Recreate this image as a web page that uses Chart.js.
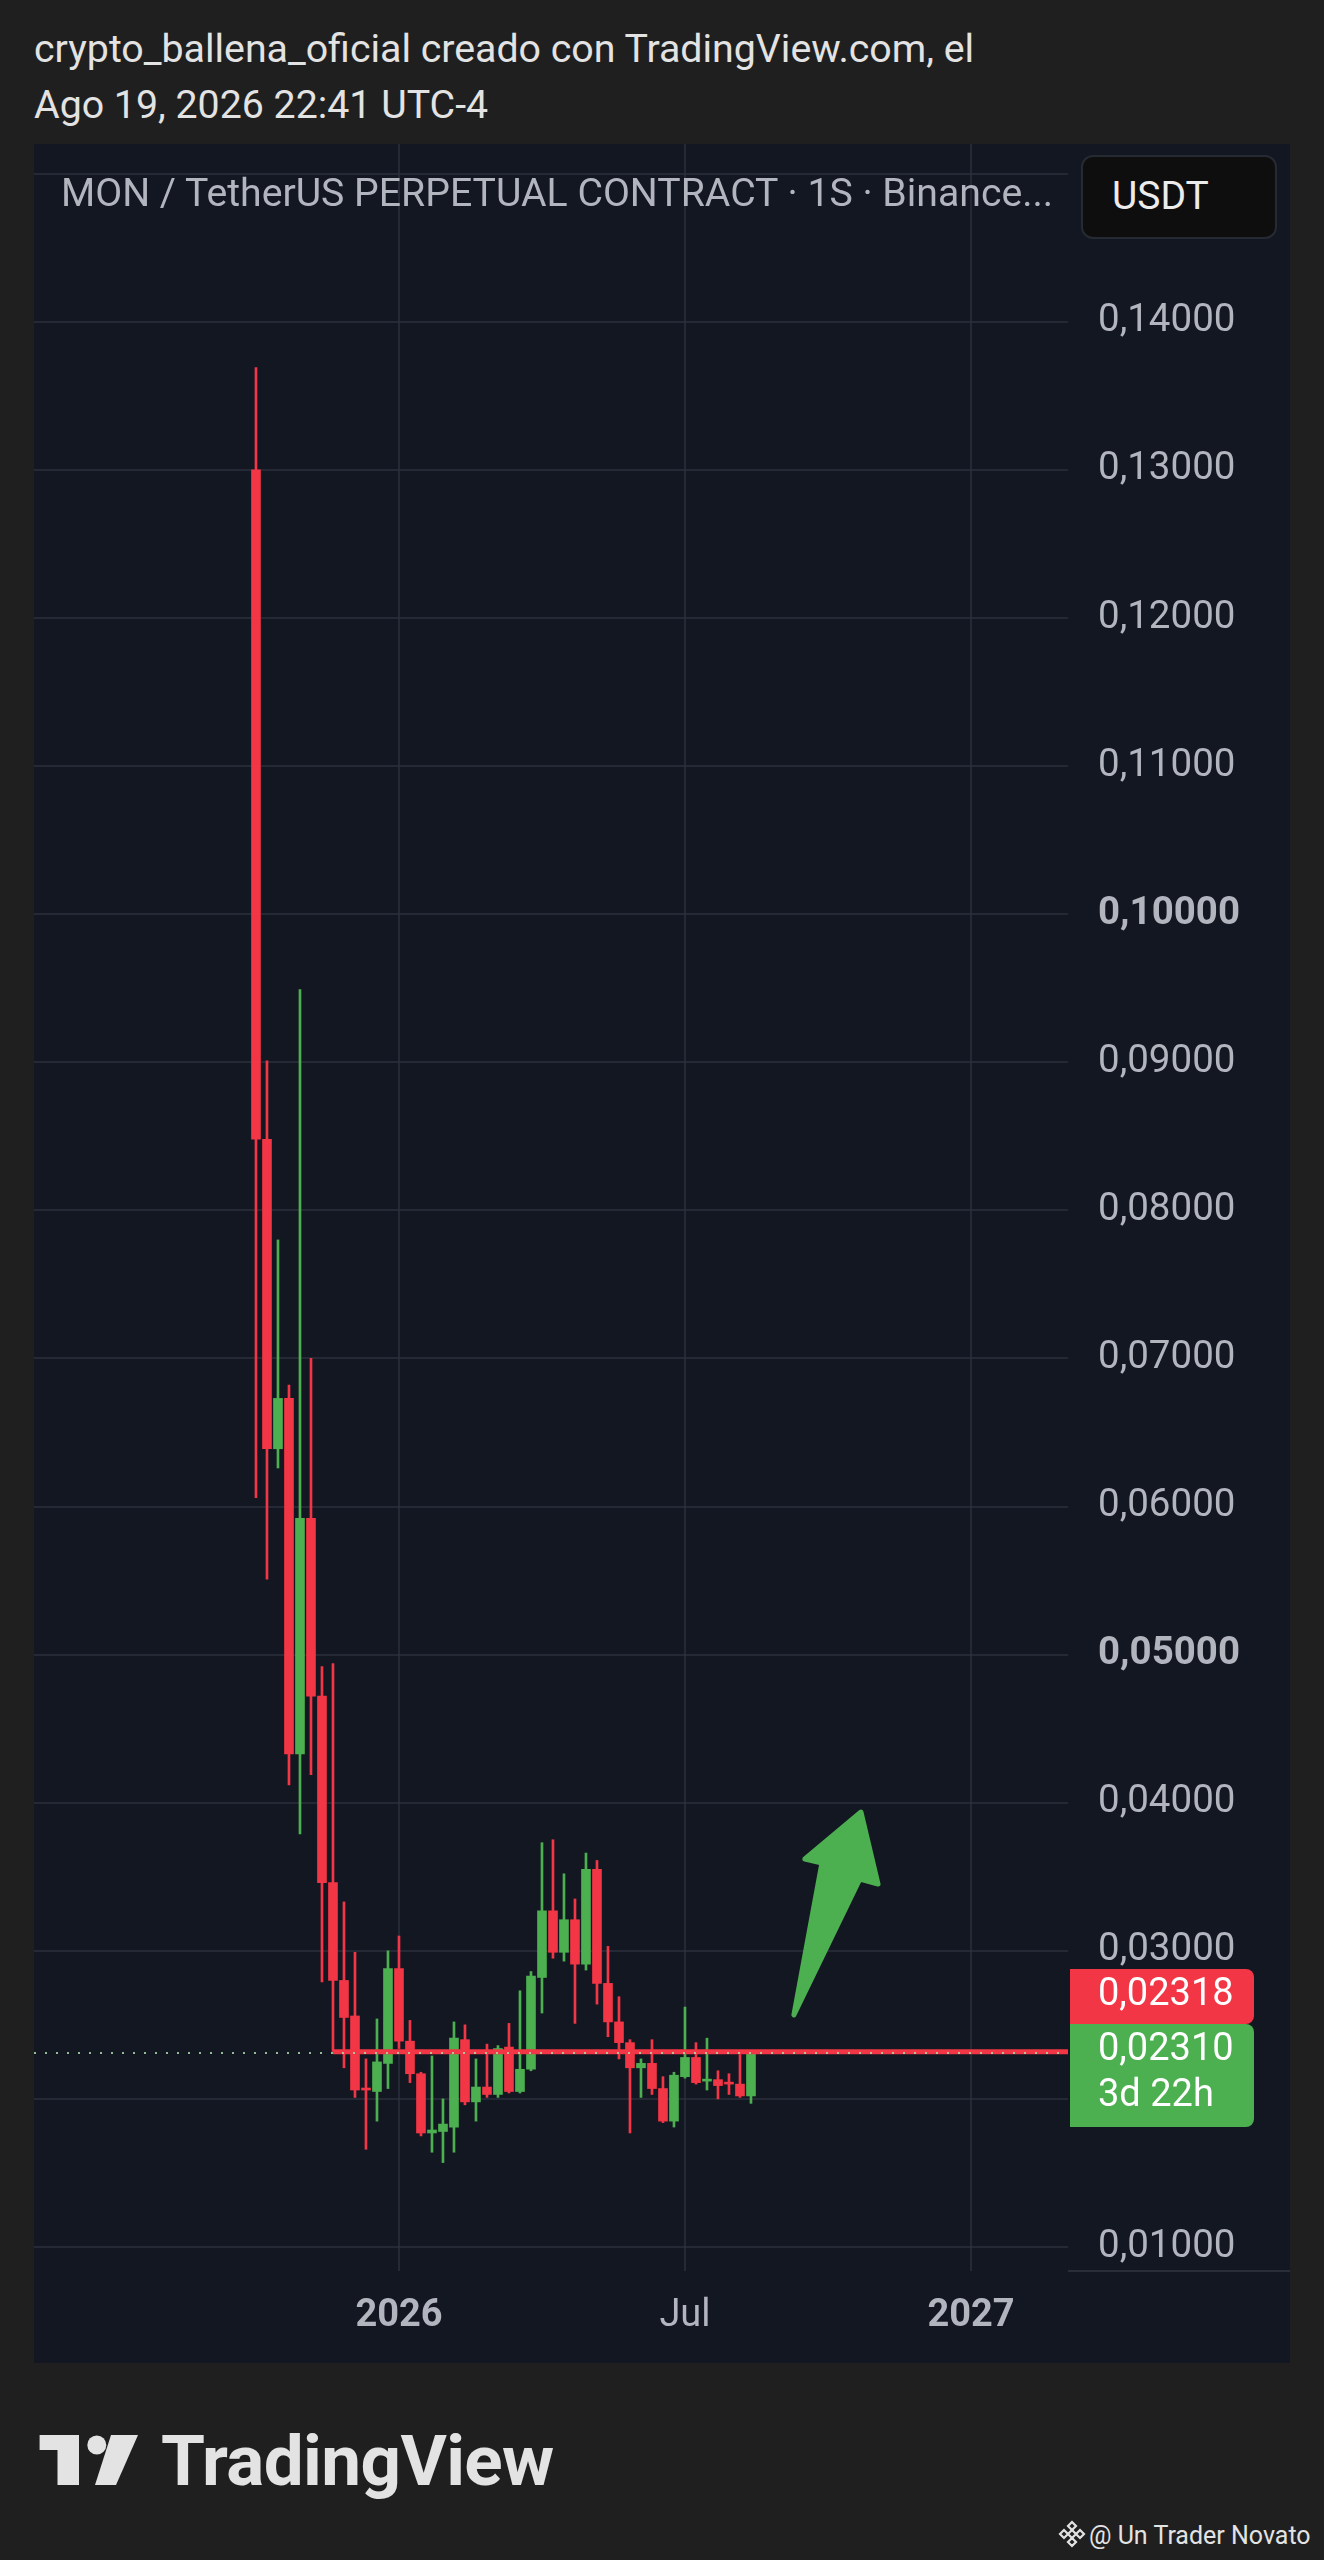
<!DOCTYPE html>
<html lang="es">
<head>
<meta charset="utf-8">
<title>MON / TetherUS PERPETUAL CONTRACT</title>
<script src="https://cdn.jsdelivr.net/npm/chart.js@4.4.1/dist/chart.umd.min.js"></script>
<style>
  html, body { margin: 0; padding: 0; }
  body {
    width: 1324px; height: 2560px; position: relative; overflow: hidden;
    background: #1f1f1f; font-family: Roboto, "Noto Sans", sans-serif;
  }
  .hdr { position: absolute; left: 34px; color: #e3e3e3; font-size: 39.3px; line-height: 39px; white-space: nowrap; }
  #pane { position: absolute; left: 34px; top: 144px; width: 1256px; height: 2219px; background: #131722; }
  #myChart { position: absolute; left: 0; top: 0; }
  .title { position: absolute; left: 27px; top: 30px; color: #b2b5be; font-size: 39.2px; line-height: 39px; white-space: nowrap; }
  .usdt-box { position: absolute; left: 1047px; top: 11px; width: 196px; height: 84px; box-sizing: border-box;
    background: #0e0e0e; border: 2px solid #262a33; border-radius: 12px; }
  .usdt { position: absolute; left: 1078px; top: 33px; color: #ececec; font-size: 39px; line-height: 39px; }
  .brand { position: absolute; left: 161px; top: 2425px; color: #e3e3e3; font-size: 71px; line-height: 71px; font-weight: 700; letter-spacing: -0.6px; }
  .credit { position: absolute; left: 1089px; top: 2523px; color: #e3e3e3; font-size: 25px; line-height: 25px; white-space: nowrap; }
</style>
</head>
<body>
<div class="hdr" style="top:30px">crypto_ballena_oficial creado con TradingView.com, el</div>
<div class="hdr" style="top:86px">Ago 19, 2026 22:41 UTC-4</div>

<div id="pane">
  <canvas id="myChart" width="1256" height="2219"></canvas>
  <div class="title">MON / TetherUS PERPETUAL CONTRACT · 1S · Binance...</div>
  <div class="usdt-box"></div>
  <div class="usdt">USDT</div>
</div>

<svg style="position:absolute;left:39px;top:2435px" width="100" height="50" viewBox="0 0 100 50">
  <polygon points="0.6,0 40,0 40,50 18.5,50 18.5,15 0.6,15" fill="#e3e3e3"/>
  <circle cx="57.8" cy="10" r="9.5" fill="#e3e3e3"/>
  <polygon points="72,0 99,0 77,50 56,50" fill="#e3e3e3"/>
</svg>
<div class="brand">TradingView</div>

<svg style="position:absolute;left:1058px;top:2520px" width="28" height="28" viewBox="0 0 28 28">
  <g fill="none" stroke="#e3e3e3" stroke-width="2.2">
    <polygon points="14,2 18,6 14,10 10,6"/>
    <polygon points="14,18 18,22 14,26 10,22"/>
    <polygon points="6,10 10,14 6,18 2,14"/>
    <polygon points="22,10 26,14 22,18 18,14"/>
    <polygon points="14,10 18,14 14,18 10,14"/>
  </g>
</svg>
<div class="credit">@ Un Trader Novato</div>

<script>
document.addEventListener("DOMContentLoaded", function () {

  // weekly candles (Monday of each week)
  const weeks = [
    "2025-10-06", "2025-10-13", "2025-10-20", "2025-10-27", "2025-11-03", "2025-11-10",
    "2025-11-17", "2025-11-24", "2025-12-01", "2025-12-08", "2025-12-15", "2025-12-22",
    "2025-12-29", "2026-01-05", "2026-01-12", "2026-01-19", "2026-01-26", "2026-02-02",
    "2026-02-09", "2026-02-16", "2026-02-23", "2026-03-02", "2026-03-09", "2026-03-16",
    "2026-03-23", "2026-03-30", "2026-04-06", "2026-04-13", "2026-04-20", "2026-04-27",
    "2026-05-04", "2026-05-11", "2026-05-18", "2026-05-25", "2026-06-01", "2026-06-08",
    "2026-06-15", "2026-06-22", "2026-06-29", "2026-07-06", "2026-07-13", "2026-07-20",
    "2026-07-27", "2026-08-03", "2026-08-10", "2026-08-17"
  ];
  const openP = [
    0.1300, 0.0848, 0.0639, 0.0673, 0.0433, 0.0592, 0.0472, 0.0346, 0.0280, 0.0256,
    0.0207, 0.0205, 0.0224, 0.0288, 0.0239, 0.0217, 0.0177, 0.0178, 0.0181, 0.0240,
    0.0198, 0.0208, 0.0203, 0.0235, 0.0205, 0.0220, 0.0282, 0.0327, 0.0299, 0.0321,
    0.0291, 0.0355, 0.0278, 0.0252, 0.0238, 0.0221, 0.0224, 0.0207, 0.0185, 0.0215,
    0.0228, 0.0212, 0.0213, 0.0211, 0.0210, 0.0202
  ];
  const highP = [
    0.1369, 0.0901, 0.0780, 0.0682, 0.0949, 0.0700, 0.0492, 0.0494, 0.0333, 0.0299,
    0.0227, 0.0254, 0.0300, 0.0310, 0.0253, 0.0218, 0.0229, 0.0200, 0.0252, 0.0250,
    0.0227, 0.0237, 0.0236, 0.0251, 0.0273, 0.0286, 0.0373, 0.0375, 0.0352, 0.0335,
    0.0366, 0.0361, 0.0303, 0.0269, 0.0240, 0.0227, 0.0240, 0.0215, 0.0218, 0.0262,
    0.0238, 0.0241, 0.0219, 0.0217, 0.0230, 0.0231
  ];
  const lowP = [
    0.0606, 0.0551, 0.0626, 0.0412, 0.0379, 0.0419, 0.0279, 0.0232, 0.0221, 0.0201,
    0.0166, 0.0185, 0.0207, 0.0234, 0.0211, 0.0175, 0.0164, 0.0157, 0.0164, 0.0196,
    0.0185, 0.0201, 0.0201, 0.0204, 0.0204, 0.0219, 0.0258, 0.0295, 0.0293, 0.0251,
    0.0287, 0.0264, 0.0242, 0.0227, 0.0177, 0.0201, 0.0203, 0.0184, 0.0181, 0.0214,
    0.0210, 0.0206, 0.0200, 0.0203, 0.0201, 0.0197
  ];
  const closeP = [
    0.0848, 0.0639, 0.0673, 0.0433, 0.0592, 0.0472, 0.0346, 0.0280, 0.0255, 0.0206,
    0.0206, 0.0225, 0.0288, 0.0239, 0.0217, 0.0177, 0.0179, 0.0183, 0.0241, 0.0198,
    0.0208, 0.0203, 0.0234, 0.0205, 0.0220, 0.0283, 0.0327, 0.0299, 0.0321, 0.0291,
    0.0355, 0.0278, 0.0252, 0.0238, 0.0221, 0.0224, 0.0207, 0.0185, 0.0216, 0.0228,
    0.0211, 0.0213, 0.0209, 0.0210, 0.0202, 0.0231
  ];

  // axis ticks
  const priceTicks = [0.01, 0.02, 0.03, 0.04, 0.05, 0.06, 0.07, 0.08, 0.09, 0.10, 0.11, 0.12, 0.13, 0.14, 0.15];
  const boldPrices = ["0,05000", "0,10000"];
  const timeTickDates = ["2026-01-05", "2026-07-06", "2027-01-04"];
  const timeTickLabels = ["2026", "Jul", "2027"];

  // drawings / labels
  const rayPrice = 0.02318;
  const rayStartWeek = "2025-11-24";
  const lastPrice = 0.02310;
  const countdown = "3d 22h";
  // hand-drawn arrow: [week position, price]
  const arrowPts = [[48.9, 0.02567], [51.45, 0.03593], [49.9, 0.03620], [55.0, 0.03937], [56.55, 0.03451], [54.9, 0.03485]];

  const RED = "#f23645";
  const GREEN = "#4caf50";
  const GRID = "rgba(46, 50, 62, 0.7)";
  const TEXT = "#b2b5be";

  // visible range
  const xMin = -20.18, xMax = 73.82;
  const yMin = 0.00838, yMax = 0.1520;

  const weekPos = d => (Date.parse(d) - Date.parse(weeks[0])) / (7 * 864e5);
  const fmt = v => v.toFixed(5).replace(".", ",");

  const xs = weeks.map(weekPos);
  const colors = closeP.map((c, i) => c >= openP[i] ? GREEN : RED);

  Chart.defaults.font.family = "Roboto, 'Noto Sans', sans-serif";

  const overlay = {
    id: "overlay",
    afterDatasetsDraw(chart) {
      const { ctx, scales: { x, y } } = chart;
      ctx.save();
      ctx.beginPath();
      arrowPts.forEach(([w, p], k) => {
        const px = x.getPixelForValue(w), py = y.getPixelForValue(p);
        if (k) ctx.lineTo(px, py); else ctx.moveTo(px, py);
      });
      ctx.closePath();
      ctx.fillStyle = GREEN;
      ctx.strokeStyle = GREEN;
      ctx.lineJoin = "round";
      ctx.lineWidth = 5;
      ctx.fill();
      ctx.stroke();
      ctx.restore();
    },
    afterDraw(chart) {
      const { ctx, chartArea, scales: { y } } = chart;
      const yl = y.getPixelForValue(lastPrice);
      const left = y.left + 2, w = 184;
      const tx = y.left + 30;
      ctx.save();
      // axis separator
      ctx.fillStyle = "#2a2e39";
      ctx.fillRect(y.left, chartArea.bottom - 1, y.right - y.left, 2);
      // green last-price label
      ctx.fillStyle = GREEN;
      ctx.beginPath();
      ctx.roundRect(left, yl - 29, w, 103, [0, 8, 8, 0]);
      ctx.fill();
      // red ray label
      ctx.fillStyle = RED;
      ctx.beginPath();
      ctx.roundRect(left, yl - 84, w, 55, [0, 8, 8, 0]);
      ctx.fill();
      ctx.font = "38px Roboto, 'Noto Sans', sans-serif";
      ctx.textBaseline = "middle";
      ctx.textAlign = "left";
      ctx.fillStyle = "#ffffff";
      ctx.fillText(fmt(rayPrice), tx, yl - 57);
      ctx.fillText(fmt(lastPrice), tx, yl - 2);
      ctx.fillText(countdown, tx, yl + 44);
      ctx.restore();
    }
  };

  const canvas = document.getElementById("myChart");
  const ctx = canvas.getContext("2d");

  new Chart(ctx, {
    type: "bar",
    data: {
      datasets: [
        {
          type: "line",
          label: "Current price",
          data: [{ x: xMin, y: lastPrice }, { x: xMax, y: lastPrice }],
          borderColor: "rgba(170, 215, 170, 0.85)",
          borderWidth: 2,
          borderDash: [2, 9],
          pointRadius: 0,
          order: -1
        },
        {
          type: "line",
          label: "Horizontal ray",
          data: [{ x: weekPos(rayStartWeek), y: rayPrice }, { x: xMax, y: rayPrice }],
          borderColor: RED,
          borderWidth: 5,
          pointRadius: 0,
          order: 0
        },
        {
          label: "Wicks",
          data: xs.map((x, i) => ({ x: x, y: [lowP[i], highP[i]] })),
          backgroundColor: colors,
          barThickness: 2,
          grouped: false,
          order: 3
        },
        {
          label: "Bodies",
          data: xs.map((x, i) => ({ x: x, y: [openP[i], closeP[i]] })),
          backgroundColor: colors,
          barThickness: 9,
          minBarLength: 2,
          grouped: false,
          order: 2
        }
      ]
    },
    options: {
      responsive: false,
      animation: false,
      devicePixelRatio: 1,
      layout: { padding: 0 },
      plugins: {
        legend: { display: false },
        tooltip: { enabled: false },
        title: { display: false }
      },
      scales: {
        x: {
          type: "linear",
          min: xMin,
          max: xMax,
          offset: false,
          afterBuildTicks: s => { s.ticks = timeTickDates.map(d => ({ value: weekPos(d) })); },
          afterFit: s => { s.height = 92; s.paddingLeft = 0; s.paddingRight = 0; },
          grid: { color: GRID, lineWidth: 2, drawTicks: false, offset: false },
          border: { display: false },
          ticks: {
            padding: 23,
            maxRotation: 0,
            autoSkip: false,
            color: TEXT,
            font: c => ({ size: 38, weight: /^\d{4}$/.test(timeTickLabels[c.index] || "") ? "bold" : "normal" }),
            callback: (v, i) => timeTickLabels[i]
          }
        },
        y: {
          type: "linear",
          position: "right",
          min: yMin,
          max: yMax,
          afterBuildTicks: s => { s.ticks = priceTicks.map(v => ({ value: v })); },
          afterFit: s => { s.width = 222; s.paddingTop = 0; s.paddingBottom = 0; },
          grid: { color: GRID, lineWidth: 2, drawTicks: false },
          border: { display: false },
          ticks: {
            padding: 30,
            color: TEXT,
            font: c => ({ size: 38.5, weight: c.tick && boldPrices.includes(fmt(c.tick.value)) ? "bold" : "normal" }),
            callback: v => v > 0.145 ? "" : fmt(v)
          }
        }
      }
    },
    plugins: [overlay]
  });

});
</script>
</body>
</html>
